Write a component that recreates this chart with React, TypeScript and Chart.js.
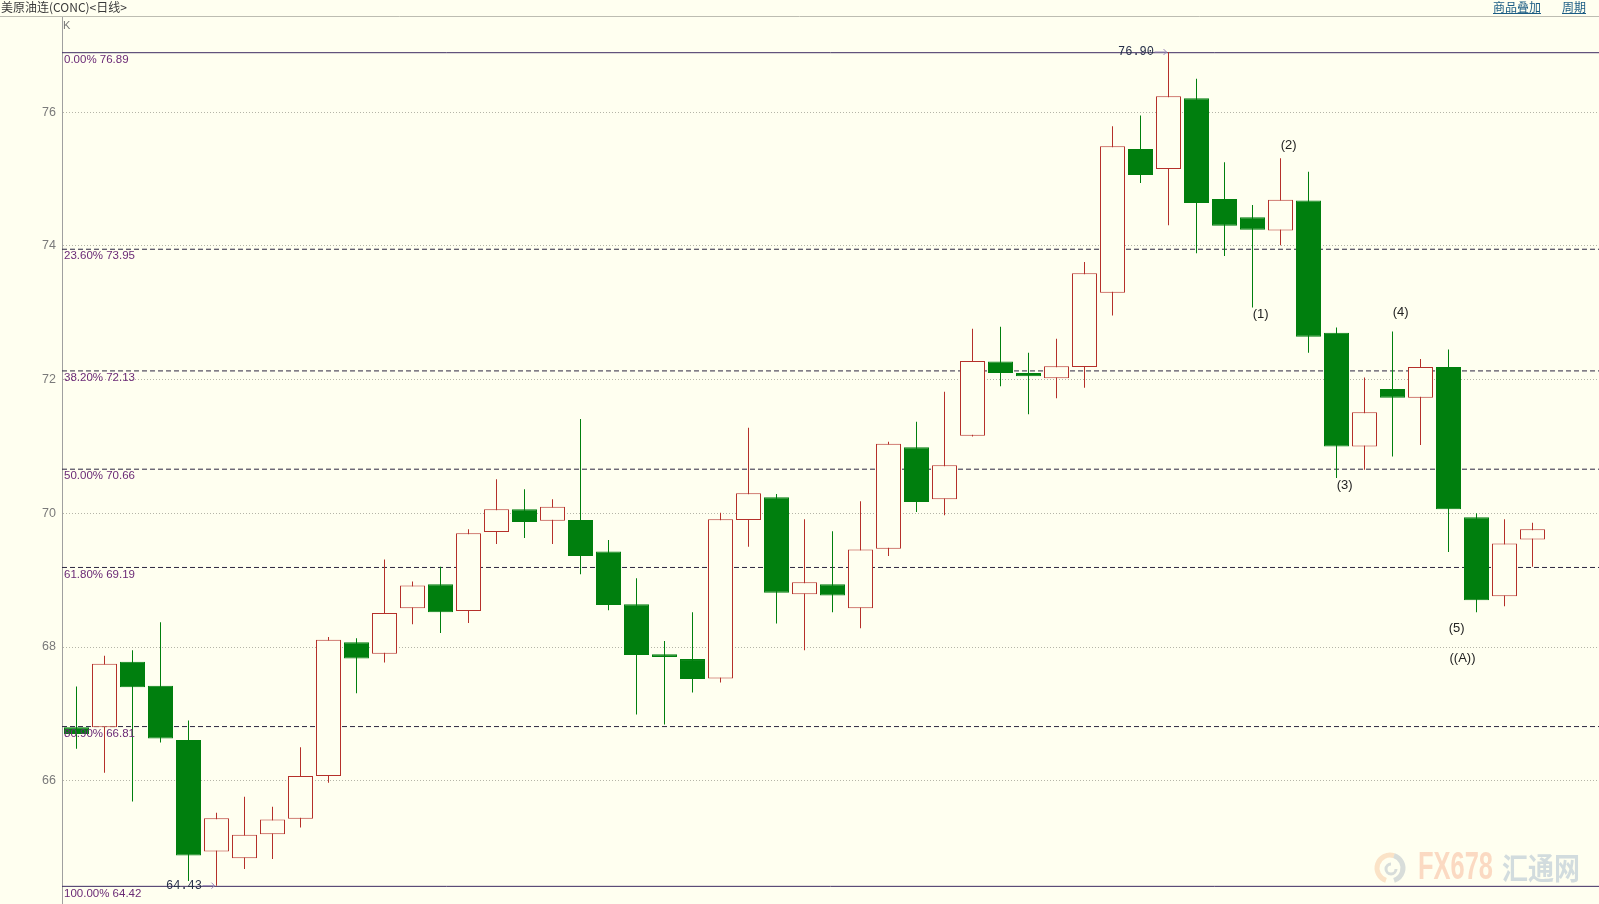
import React, { useEffect, useRef } from 'react';
import { Chart, registerables } from 'chart.js';

Chart.register(...registerables);

// ---------- data ----------
const opens = [66.80, 66.80, 67.78, 67.42, 66.61, 64.94, 64.84, 65.20, 65.43, 66.07, 68.07, 67.90, 68.58, 68.94, 68.54, 69.72, 70.06, 69.89, 69.90, 69.43, 68.64, 67.89, 67.82, 67.53, 69.90, 70.24, 68.79, 68.94, 68.58, 69.47, 70.99, 70.21, 71.16, 72.27, 72.10, 72.02, 72.19, 73.30, 75.45, 75.15, 76.21, 74.70, 74.43, 74.23, 74.68, 72.70, 71.00, 71.86, 71.73, 72.19, 69.94, 68.76, 69.61];
const closes = [66.70, 67.75, 67.40, 66.63, 64.88, 65.44, 65.19, 65.42, 66.07, 68.11, 67.83, 68.51, 68.92, 68.52, 69.70, 70.06, 69.87, 70.10, 69.36, 68.63, 67.88, 67.85, 67.52, 69.91, 70.30, 68.81, 68.97, 68.77, 69.46, 71.04, 70.17, 70.72, 72.28, 72.10, 72.05, 72.20, 73.59, 75.49, 75.06, 76.24, 74.64, 74.30, 74.24, 74.69, 72.64, 71.00, 71.51, 71.73, 72.19, 70.06, 68.70, 69.55, 69.76];
const highs = [67.41, 67.87, 67.95, 68.37, 66.90, 65.52, 65.76, 65.61, 66.50, 68.15, 68.13, 69.31, 68.98, 69.20, 69.76, 70.51, 70.36, 70.21, 71.41, 69.60, 69.03, 68.09, 68.52, 70.01, 71.28, 70.29, 69.91, 69.73, 70.18, 71.07, 71.37, 71.82, 72.76, 72.79, 72.40, 72.61, 73.76, 75.79, 75.95, 76.90, 76.50, 75.25, 74.61, 75.31, 75.11, 72.78, 72.03, 72.72, 72.31, 72.45, 70.00, 69.91, 69.86];
const lows = [66.48, 66.12, 65.69, 66.57, 64.50, 64.43, 64.68, 64.83, 65.30, 65.97, 67.31, 67.77, 68.34, 68.21, 68.36, 69.54, 69.63, 69.54, 69.09, 68.55, 66.99, 66.84, 67.32, 67.47, 69.50, 68.35, 67.95, 68.52, 68.28, 69.36, 70.02, 69.97, 71.15, 71.90, 71.48, 71.72, 71.88, 72.96, 74.94, 74.31, 73.89, 73.85, 73.08, 74.01, 72.40, 70.53, 70.65, 70.85, 71.02, 69.42, 68.52, 68.61, 69.20];

const yTicks = [66, 68, 70, 72, 74, 76];
const fibPercents = ['0.00%', '23.60%', '38.20%', '50.00%', '61.80%', '80.90%', '100.00%'];
const fibValues = [76.89, 73.95, 72.13, 70.66, 69.19, 66.81, 64.42];
const fibSolid = [true, false, false, false, false, false, true];

const waveLabels = ['(1)', '(2)', '(3)', '(4)', '(5)', '((A))'];
const waveX = [42.29, 43.29, 45.29, 47.29, 49.29, 49.5];
const waveY = [72.97, 75.50, 70.41, 73.01, 68.28, 67.83];

const highLabel = { index: 39, value: 76.90, text: '76.90' };
const lowLabel = { index: 5, value: 64.43, text: '64.43' };

const TITLE = '美原油连(CONC)<日线>';

// ---------- styling ----------
const BG = '#fffff0';
const RED = '#b5302a';
const GREEN = '#007f0e';
const SLOT = 28;
const AXIS_W = 62;
const X_MIN = -0.5 - 0.5 / SLOT;
const X_MAX = X_MIN + (1599 - AXIS_W) / SLOT;
const Y_MIN = 64.156;
const Y_MAX = 77.424;

const isUp = (i: number) => closes[i] >= opens[i];

const decorPlugin = {
  id: 'decor',
  beforeDraw(chart: any) {
    const { ctx, width, height } = chart;
    ctx.save();
    ctx.fillStyle = BG;
    ctx.fillRect(0, 0, width, height);
    ctx.textBaseline = 'middle';
    ctx.textAlign = 'left';
    ctx.font = '12px "Noto Sans CJK SC"';
    ctx.fillStyle = '#3a3a3a';
    ctx.fillText(TITLE, 1, 7);
    ctx.fillStyle = '#1c5d84';
    ctx.fillText('商品叠加', 1493, 7);
    ctx.fillText('周期', 1562, 7);
    ctx.strokeStyle = '#1c5d84';
    ctx.lineWidth = 1;
    ctx.beginPath();
    ctx.moveTo(1493, 13.5); ctx.lineTo(1541, 13.5);
    ctx.moveTo(1562, 13.5); ctx.lineTo(1586, 13.5);
    ctx.stroke();
    ctx.strokeStyle = '#bdbdb2';
    ctx.beginPath();
    ctx.moveTo(0, 16.5); ctx.lineTo(width, 16.5);
    ctx.stroke();
    ctx.restore();
  },
  afterDatasetsDraw(chart: any) {
    const { ctx } = chart;
    const xs = chart.scales.x;
    const ys = chart.scales.y;
    ctx.save();
    // K
    ctx.font = '11px "Liberation Sans"';
    ctx.fillStyle = '#777777';
    ctx.textAlign = 'left';
    ctx.textBaseline = 'middle';
    ctx.fillText('K', 63, 26);
    // fib labels
    ctx.font = '11.5px "Liberation Sans"';
    ctx.fillStyle = '#6b2a76';
    fibValues.forEach((v, i) => {
      const py = ys.getPixelForValue(v);
      ctx.fillText(`${fibPercents[i]} ${v.toFixed(2)}`, 64, py + 7);
    });
    // wave labels
    ctx.font = '13px "Liberation Sans"';
    ctx.fillStyle = '#222222';
    ctx.textAlign = 'center';
    waveLabels.forEach((t, i) => {
      ctx.fillText(t, xs.getPixelForValue(waveX[i]), ys.getPixelForValue(waveY[i]));
    });
    // extremes
    const drawExtreme = (lab: { index: number; value: number; text: string }) => {
      const px = xs.getPixelForValue(lab.index);
      const py = ys.getPixelForValue(lab.value);
      ctx.font = '12px "Liberation Mono"';
      ctx.fillStyle = '#27304a';
      ctx.textAlign = 'right';
      ctx.fillText(lab.text, px - 14.5, py);
      ctx.strokeStyle = '#9a88b8';
      ctx.lineWidth = 1;
      ctx.beginPath();
      ctx.moveTo(px - 14, py); ctx.lineTo(px - 2, py);
      ctx.moveTo(px - 5, py - 3); ctx.lineTo(px - 2, py); ctx.lineTo(px - 5, py + 3);
      ctx.stroke();
    };
    drawExtreme(highLabel);
    drawExtreme(lowLabel);
    // watermark
    ctx.globalAlpha = 0.4;
    ctx.lineWidth = 5;
    ctx.strokeStyle = '#f4b98a';
    ctx.beginPath(); ctx.arc(1390, 868, 13, Math.PI * 0.6, Math.PI * 1.6); ctx.stroke();
    ctx.strokeStyle = '#9eabb8';
    ctx.beginPath(); ctx.arc(1390, 868, 13, Math.PI * 1.6, Math.PI * 2.4); ctx.stroke();
    ctx.lineWidth = 3;
    ctx.beginPath(); ctx.arc(1391, 869, 5, 0, Math.PI * 1.5); ctx.stroke();
    const grad = ctx.createLinearGradient(1418, 0, 1493, 0);
    grad.addColorStop(0, '#fbd28e');
    grad.addColorStop(1, '#f5a27e');
    ctx.fillStyle = grad;
    ctx.font = 'bold 38px "Liberation Sans"';
    ctx.textAlign = 'left';
    ctx.fillText('FX678', 1418, 869, 75);
    ctx.fillStyle = '#8fa8c4';
    ctx.font = 'bold 30px "Noto Sans CJK SC"';
    ctx.fillText('汇通网', 1502, 868, 78);
    ctx.restore();
  },
};

export default function App() {
  const ref = useRef<HTMLCanvasElement | null>(null);
  useEffect(() => {
    if (!ref.current) return;
    const idx = opens.map((_, i) => i);
    const fibSets = fibValues.map((v, i) => ({
      type: 'line' as const,
      data: [{ x: X_MIN, y: v }, { x: X_MAX, y: v }],
      borderColor: fibSolid[i] ? '#3e2c62' : '#2c2640',
      borderWidth: 1,
      borderDash: fibSolid[i] ? [] : [5, 3],
      pointRadius: 0,
      fill: false,
    }));
    const chart = new Chart(ref.current, {
      type: 'bar',
      data: {
        datasets: [
          {
            type: 'bar',
            data: idx.map((i) => ({ x: i, y: [opens[i], closes[i]] })),
            backgroundColor: idx.map((i) => (isUp(i) ? BG : GREEN)),
            borderColor: idx.map((i) => (isUp(i) ? RED : GREEN)),
            borderWidth: 1,
            borderSkipped: false,
            grouped: false,
            barPercentage: 25 / SLOT,
            categoryPercentage: 1,
          } as any,
          {
            type: 'bar',
            data: idx.map((i) => ({ x: i, y: [lows[i], highs[i]] })),
            backgroundColor: idx.map((i) => (isUp(i) ? RED : GREEN)),
            borderWidth: 0,
            grouped: false,
            barPercentage: 1 / SLOT,
            categoryPercentage: 1,
          } as any,
          ...(fibSets as any[]),
        ],
      },
      options: {
        animation: false,
        responsive: false,
        devicePixelRatio: 1,
        events: [],
        layout: { padding: { top: 17, left: 0, right: 0, bottom: 0 } },
        plugins: { legend: { display: false }, tooltip: { enabled: false } },
        scales: {
          x: {
            type: 'linear',
            min: X_MIN,
            max: X_MAX,
            offset: false,
            display: false,
            afterBuildTicks: (s: any) => {
              s.ticks = idx.map((v) => ({ value: v }));
            },
            afterFit: (s: any) => {
              s.paddingLeft = 0; s.paddingRight = 0; s.paddingTop = 0; s.paddingBottom = 0;
            },
          },
          y: {
            type: 'linear',
            min: Y_MIN,
            max: Y_MAX,
            beginAtZero: false,
            afterFit: (s: any) => {
              s.width = AXIS_W;
              s.paddingTop = 0; s.paddingBottom = 0; s.paddingLeft = 0; s.paddingRight = 0;
            },
            afterBuildTicks: (s: any) => {
              s.ticks = yTicks.map((v) => ({ value: v }));
            },
            ticks: {
              padding: 6,
              color: '#7a7a7a',
              font: { family: 'Liberation Sans', size: 12.5 },
              callback: (v: any) => String(v),
            },
            grid: { color: '#b5b5a8', lineWidth: 1, drawTicks: false },
            border: { display: true, color: '#a0a0a0', width: 1, dash: [1, 2] },
          },
        },
      } as any,
      plugins: [decorPlugin],
    });
    return () => chart.destroy();
  }, []);
  return (
    <div style={{ position: 'fixed', left: 0, top: 0, width: 1599, height: 904, background: BG }}>
      <canvas ref={ref} width={1599} height={904} style={{ display: 'block' }} />
    </div>
  );
}
